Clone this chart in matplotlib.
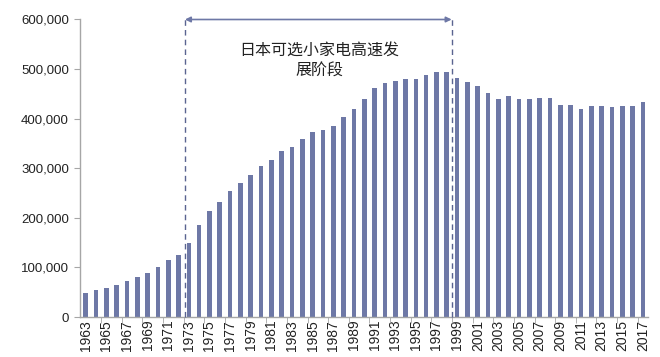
import matplotlib
matplotlib.use("Agg")
import matplotlib.pyplot as plt
import numpy as np
from matplotlib.ticker import FuncFormatter

years = list(range(1963, 2018))
values = [48000, 54000, 58000, 64000, 72000, 80000, 89000, 101000, 114000, 126000,
          150000, 186000, 214000, 232000, 255000, 270000, 286000, 304000, 316000, 335000,
          343000, 359000, 373000, 378000, 386000, 404000, 420000, 439000, 462000, 472000,
          476000, 480000, 481000, 488000, 495000, 494000, 483000, 473000, 466000, 452000,
          440000, 446000, 440000, 440000, 441000, 441000, 427000, 428000, 419000, 425000,
          425000, 423000, 426000, 426000, 433000]
yticks = [0, 100000, 200000, 300000, 400000, 500000, 600000]
phase_start, phase_end = 1973, 1999
annotation = "日本可选小家电高速发\n展阶段"

bar_color = "#6E78A6"
axis_color = "#A6A6A6"

fig = plt.figure(figsize=(6.6, 3.57), dpi=100)
ax = fig.add_axes([80/660, 1-317/357, (648-80)/660, (317-19.5)/357])

x = np.arange(len(years))
ax.bar(x, values, width=0.45, color=bar_color, zorder=2)

ax.set_xlim(-0.55, len(years) - 0.5)
ax.set_ylim(0, 600000)
ax.set_yticks(yticks)
ax.yaxis.set_major_formatter(FuncFormatter(lambda v, p: f"{int(v):,}"))
ax.tick_params(axis="y", labelsize=9.5, length=4, color=axis_color, pad=4,
               labelcolor="#222222")
for lab in ax.get_yticklabels():
    lab.set_family(["Liberation Sans", "DejaVu Sans"])

lab_idx = [i for i, yv in enumerate(years) if yv % 2 == 1]
ax.set_xticks(lab_idx)
ax.set_xticklabels([str(years[i]) for i in lab_idx], rotation=90,
                   fontsize=10, family=["Liberation Sans", "DejaVu Sans"], color="#222222")
ax.tick_params(axis="x", length=0, pad=2)
ax.set_xticks([i - 0.5 for i in lab_idx if i > 0], minor=True)
ax.tick_params(axis="x", which="minor", length=4, color=axis_color)

for s in ["top", "right"]:
    ax.spines[s].set_visible(False)
for s in ["left", "bottom"]:
    ax.spines[s].set_color(axis_color)
    ax.spines[s].set_linewidth(1.0)

xs = years.index(phase_start) - 0.38
xe = years.index(phase_end) - 0.53
top = 600000
for xv in (xs, xe):
    ax.plot([xv, xv], [0, top], linestyle=(0, (4, 3)), color="#5A6490",
            linewidth=1.0, zorder=3, clip_on=False)
ax.annotate("", xy=(xe, top), xytext=(xs, top),
            arrowprops=dict(arrowstyle="<|-|>", color=bar_color, lw=1.2,
                            mutation_scale=8, shrinkA=0, shrinkB=0),
            annotation_clip=False)
ax.text((xs + xe) / 2 + 0.1, 553000, annotation, ha="center", va="top",
        fontsize=11.5, family=["Noto Sans CJK SC", "DejaVu Sans"],
        color="#222222", linespacing=1.25)

fig.savefig("out.png", dpi=100)
